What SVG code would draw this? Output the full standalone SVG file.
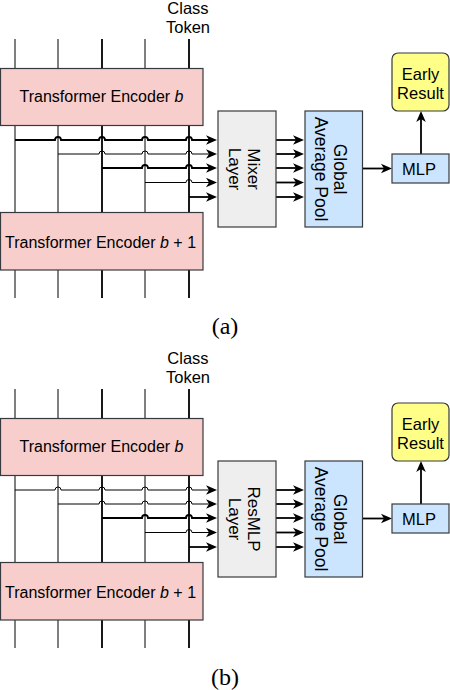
<svg xmlns="http://www.w3.org/2000/svg" width="450" height="690" viewBox="0 0 450 690">
<style>
.t{font-family:"Liberation Sans",Arial,sans-serif;font-size:16px;fill:#000}
.r{font-size:17px}
.m{font-size:16.5px}
.cap{font-family:"Liberation Serif","Times New Roman",serif;font-size:24px;fill:#000}
.enc{fill:#f8cecc;stroke:#36393d;stroke-width:1.2}
.gray{fill:#eeeeee;stroke:#36393d;stroke-width:1.2}
.blue{fill:#cce5ff;stroke:#36393d;stroke-width:1.2}
.yel{fill:#ffff88;stroke:#36393d;stroke-width:1.2}
.thin{fill:none;stroke:#000;stroke-width:1}
.thick{fill:none;stroke:#000;stroke-width:1.8}
.arr{marker-end:url(#ah)}
</style>
<defs>
<marker id="ah" markerUnits="userSpaceOnUse" viewBox="0 -6 12 12" markerWidth="12" markerHeight="12" refX="3" refY="0" orient="auto">
<path d="M11,0 L0,-4.8 L3,0 L0,4.8 Z" fill="#000"/>
</marker>
<g id="cols">
<line class="thin" x1="15" y1="39" x2="15" y2="298"/>
<line class="thin" x1="58" y1="39" x2="58" y2="298"/>
<line class="thick" x1="102" y1="39" x2="102" y2="298"/>
<line class="thin" x1="145" y1="39" x2="145" y2="298"/>
<line class="thick" x1="189" y1="39" x2="189" y2="298"/>
</g>
</defs>

<g id="connectors">
<!-- panel a -->
<use href="#cols"/>
<path class="thick arr" d="M15,140 H55 A3,3 0 0 1 61,140 H99 A3,3 0 0 1 105,140 H142 A3,3 0 0 1 148,140 H186 A3,3 0 0 1 192,140 H209"/>
<path class="thin arr" d="M58,154 H99 A3,3 0 0 1 105,154 H142 A3,3 0 0 1 148,154 H186 A3,3 0 0 1 192,154 H209"/>
<path class="thick arr" d="M102,168 H142 A3,3 0 0 1 148,168 H186 A3,3 0 0 1 192,168 H209"/>
<path class="thin arr" d="M145,182.5 H186 A3,3 0 0 1 192,182.5 H209"/>
<path class="thick arr" d="M189,197 H209"/>
<path class="thick arr" d="M276,140 H296"/>
<path class="thick arr" d="M276,154 H296"/>
<path class="thick arr" d="M276,168 H296"/>
<path class="thick arr" d="M276,182.5 H296"/>
<path class="thick arr" d="M276,197 H296"/>
<path class="thick arr" d="M363,168.5 H384"/>
<path class="thick arr" d="M421,154 V119"/>
<!-- panel b -->
<g transform="translate(0,350)">
<use href="#cols"/>
<path class="thin arr" d="M15,140 H55 A3,3 0 0 1 61,140 H99 A3,3 0 0 1 105,140 H142 A3,3 0 0 1 148,140 H186 A3,3 0 0 1 192,140 H209"/>
<path class="thin arr" d="M58,154 H99 A3,3 0 0 1 105,154 H142 A3,3 0 0 1 148,154 H186 A3,3 0 0 1 192,154 H209"/>
<path class="thick arr" d="M102,168 H142 A3,3 0 0 1 148,168 H186 A3,3 0 0 1 192,168 H209"/>
<path class="thin arr" d="M145,182.5 H186 A3,3 0 0 1 192,182.5 H209"/>
<path class="thick arr" d="M189,197 H209"/>
<path class="thick arr" d="M276,140 H296"/>
<path class="thick arr" d="M276,154 H296"/>
<path class="thick arr" d="M276,168 H296"/>
<path class="thick arr" d="M276,182.5 H296"/>
<path class="thick arr" d="M276,197 H296"/>
<path class="thick arr" d="M363,168.5 H384"/>
<path class="thick arr" d="M421,154 V119"/>
</g>
</g>

<!-- panel a nodes -->
<g id="a-token"><text class="t m" text-anchor="middle"><tspan x="188" y="13.5">Class</tspan><tspan x="188" y="33">Token</tspan></text></g>
<g id="a-enc-b"><rect class="enc" x="0.5" y="68.5" width="202.5" height="57"/><text class="t" x="101.5" y="102" text-anchor="middle">Transformer Encoder <tspan font-style="italic">b</tspan></text></g>
<g id="a-enc-b1"><rect class="enc" x="0.5" y="212.5" width="202.5" height="57.5"/><text class="t" x="100.5" y="248" text-anchor="middle">Transformer Encoder <tspan font-style="italic">b</tspan> + 1</text></g>
<g id="a-mixer"><rect class="gray" x="218" y="111" width="58" height="116"/><text class="t r" text-anchor="middle" transform="translate(247,169) rotate(90)"><tspan x="0" y="-1">Mixer</tspan><tspan x="0" y="18">Layer</tspan></text></g>
<g id="a-gap"><rect class="blue" x="305" y="111" width="57.5" height="116"/><text class="t" style="font-size:17.5px" text-anchor="middle" transform="translate(333.5,169) rotate(90)"><tspan x="0" y="-0.5">Global</tspan><tspan x="0" y="18.5">Average Pool</tspan></text></g>
<g id="a-mlp"><rect class="blue" x="392" y="154" width="57" height="29"/><text class="t" style="font-size:16.5px" x="419" y="175" text-anchor="middle">MLP</text></g>
<g id="a-early"><rect class="yel" x="392" y="53" width="57" height="58" rx="6"/><text class="t m" text-anchor="middle"><tspan x="420.5" y="80">Early</tspan><tspan x="420.5" y="98.5">Result</tspan></text></g>
<g id="a-caption"><text class="cap" x="225" y="334" text-anchor="middle">(a)</text></g>

<!-- panel b nodes -->
<g id="b-token"><text class="t m" text-anchor="middle"><tspan x="188" y="363.5">Class</tspan><tspan x="188" y="383">Token</tspan></text></g>
<g id="b-enc-b"><rect class="enc" x="0.5" y="418.5" width="202.5" height="57"/><text class="t" x="101.5" y="452" text-anchor="middle">Transformer Encoder <tspan font-style="italic">b</tspan></text></g>
<g id="b-enc-b1"><rect class="enc" x="0.5" y="562.5" width="202.5" height="57.5"/><text class="t" x="100.5" y="598" text-anchor="middle">Transformer Encoder <tspan font-style="italic">b</tspan> + 1</text></g>
<g id="b-resmlp"><rect class="gray" x="218" y="461" width="58" height="116"/><text class="t r" text-anchor="middle" transform="translate(247,519) rotate(90)"><tspan x="0" y="-1">ResMLP</tspan><tspan x="0" y="18">Layer</tspan></text></g>
<g id="b-gap"><rect class="blue" x="305" y="461" width="57.5" height="116"/><text class="t" style="font-size:17.5px" text-anchor="middle" transform="translate(333.5,519) rotate(90)"><tspan x="0" y="-0.5">Global</tspan><tspan x="0" y="18.5">Average Pool</tspan></text></g>
<g id="b-mlp"><rect class="blue" x="392" y="504" width="57" height="29"/><text class="t" style="font-size:16.5px" x="419" y="525" text-anchor="middle">MLP</text></g>
<g id="b-early"><rect class="yel" x="392" y="403" width="57" height="58" rx="6"/><text class="t m" text-anchor="middle"><tspan x="420.5" y="430">Early</tspan><tspan x="420.5" y="448.5">Result</tspan></text></g>
<g id="b-caption"><text class="cap" x="225" y="685" text-anchor="middle">(b)</text></g>
</svg>
